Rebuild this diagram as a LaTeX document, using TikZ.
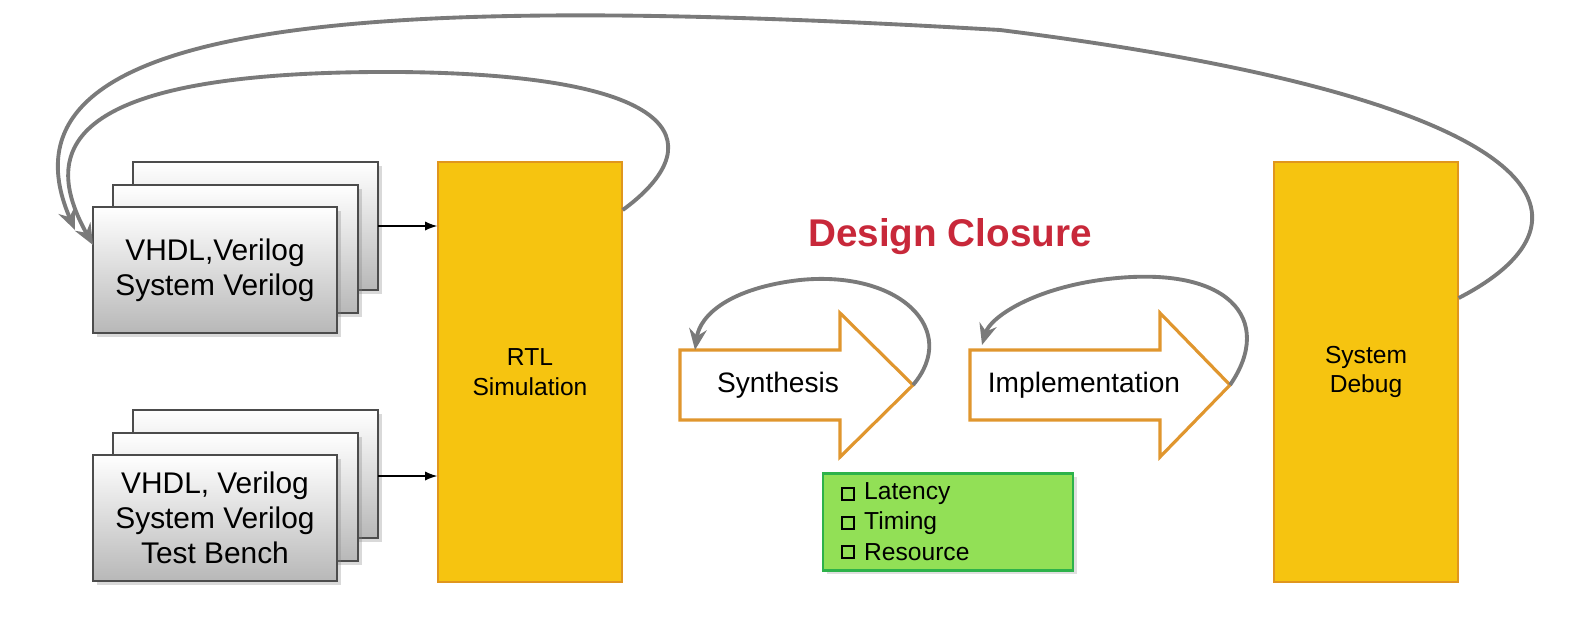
\documentclass[tikz,border=0pt]{standalone}
\usepackage{fontspec}
\setmainfont{Liberation Sans}
\usetikzlibrary{shadows,arrows.meta}

\definecolor{rtlfill}{HTML}{F6C410}
\definecolor{rtledge}{HTML}{E0961E}
\definecolor{flowedge}{HTML}{E0962E}
\definecolor{notefill}{HTML}{92E056}
\definecolor{noteedge}{HTML}{2DB24A}
\definecolor{closure}{HTML}{C8283A}
\definecolor{loopgray}{HTML}{7A7A7A}

\tikzset{
  src/.style={draw=black!70, thick, top color=white, bottom color=black!28,
    drop shadow={opacity=0.3, shadow xshift=2pt, shadow yshift=-2pt}},
  stage/.style={draw=rtledge, thick, fill=rtlfill},
  flow/.style={draw=flowedge, line width=1.8pt, fill=white, line join=miter},
  loop/.style={draw=loopgray, line width=2.2pt, -{Stealth[length=12pt, width=10pt, inset=4pt, open]}},
  lbl/.style={font=\fontsize{17}{20}\selectfont, align=center},
}

\begin{document}
\begin{tikzpicture}[x=0.02cm, y=-0.02cm]
  \useasboundingbox (0,0) rectangle (1574,643);

  % source stacks
  \foreach \y in {0,248}{
    \draw[src] (133,162+\y) rectangle (378,290+\y);
    \draw[src] (113,185+\y) rectangle (358,313+\y);
    \draw[src] (93,207+\y) rectangle (337,333+\y);
  }
  \node[lbl] (hdl) at (215,270) {VHDL,Verilog\\System Verilog};
  \node[lbl] (tb) at (215,518) {VHDL, Verilog\\System Verilog\\Test Bench};
  \coordinate (hdlout) at (378,226);
  \coordinate (tbout) at (378,476);
  \coordinate (hdlin) at (93,245);
  \coordinate (hdlin2) at (75,230);

  % stage boxes
  \node[stage, minimum width=3.68cm, minimum height=8.4cm, font=\fontsize{14}{17}\selectfont, align=center]
    (rtl) at (530,372) {RTL\\Simulation};
  \node[stage, minimum width=3.68cm, minimum height=8.4cm, font=\fontsize{14}{17}\selectfont, align=center]
    (dbg) at (1366,372) {System\\Debug};

  \draw[-{Latex[length=7pt]}, thick] (hdlout) -- (hdlout -| rtl.west);
  \draw[-{Latex[length=7pt]}, thick] (tbout) -- (tbout -| rtl.west);

  % flow arrows
  \draw[flow] (680,350) -- (840,350) -- (840,313) -- (913,385) -- (840,457) -- (840,420) -- (680,420) -- cycle;
  \draw[flow] (970,350) -- (1160,350) -- (1160,313) -- (1230,385) -- (1160,457) -- (1160,420) -- (970,420) -- cycle;
  \node[lbl, font=\fontsize{16}{19}\selectfont] (syn) at (778,385) {Synthesis};
  \node[lbl, font=\fontsize{16}{19}\selectfont] (impl) at (1084,385) {Implementation};

  \node[font=\bfseries\fontsize{22}{26}\selectfont, text=closure] (title) at (950,237) {Design Closure};

  % constraints
  \node[draw=noteedge, line width=1.5pt, fill=notefill, minimum width=5cm, minimum height=1.94cm,
    drop shadow={opacity=0.25, shadow xshift=2pt, shadow yshift=-2pt}] (note) at (948,522) {};
  \foreach \t [count=\i] in {Latency,Timing,Resource}{
    \node[draw=black, line width=1.2pt, minimum size=7pt, inner sep=0pt] (b\i) at (848,465+29*\i) {};
    \node[anchor=west, font=\fontsize{14}{16}\selectfont] (t\i) at (858,465+29*\i) {\t};
  }

  % feedback loops
  \draw[loop] (rtl.east |- 0,210) .. controls (705,150) and (700,75) .. (400,72)
    .. controls (60,70) and (40,150) .. (hdlin);
  \draw[loop] (dbg.east |- 0,298) .. controls (1610,220) and (1560,100) .. (1000,30)
    .. controls (400,-5) and (-20,10) .. (hdlin2);
  \draw[loop] (913,385) .. controls (960,330) and (900,270) .. (800,280)
    .. controls (730,288) and (700,315) .. (695,350);
  \draw[loop] (1230,385) .. controls (1275,320) and (1230,262) .. (1100,280)
    .. controls (1030,290) and (990,318) .. (982,345);
\end{tikzpicture}
\end{document}
